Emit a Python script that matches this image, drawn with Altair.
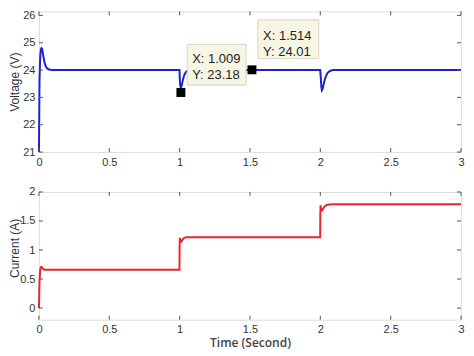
import altair as alt
import pandas as pd

# ---- data ----
v_time = [0.0, 0.004, 0.009, 0.014, 0.018, 0.022, 0.027, 0.033, 0.040, 0.048, 0.057, 0.068, 0.080, 0.095,
          0.999, 1.002, 1.005, 1.009, 1.014, 1.020, 1.027, 1.035, 1.045, 1.058, 1.075,
          1.999, 2.003, 2.007, 2.011, 2.016, 2.022, 2.030, 2.040, 2.052, 2.068, 2.090, 3.0]
v_volt = [21.0, 23.6, 24.5, 24.75, 24.8, 24.78, 24.65, 24.45, 24.28, 24.15, 24.07, 24.03, 24.01, 24.0,
          24.0, 23.6, 23.4, 23.36, 23.42, 23.56, 23.72, 23.84, 23.93, 23.98, 24.0,
          24.0, 23.75, 23.4, 23.26, 23.3, 23.45, 23.62, 23.78, 23.9, 23.97, 24.0, 24.0]

i_time = [0.0, 0.004, 0.009, 0.013, 0.017, 0.022, 0.028, 0.036, 0.046, 0.060,
          0.999, 1.0, 1.002, 1.005, 1.010, 1.016, 1.024, 1.034, 1.046, 1.060,
          1.999, 2.0, 2.002, 2.006, 2.012, 2.020, 2.030, 2.045, 2.065, 2.090, 3.0]
i_amp = [0.0, 0.45, 0.66, 0.70, 0.71, 0.70, 0.68, 0.665, 0.66, 0.66,
         0.66, 1.10, 1.21, 1.15, 1.14, 1.16, 1.19, 1.21, 1.22, 1.22,
         1.22, 1.62, 1.77, 1.69, 1.68, 1.71, 1.75, 1.775, 1.785, 1.79, 1.79]

tip_x = [1.009, 1.514]
tip_y = [23.18, 24.01]
tip_line1 = ["X: 1.009", "X: 1.514"]
tip_line2 = ["Y: 23.18", "Y: 24.01"]
box_x1 = [1.054, 1.556]
box_x2 = [1.472, 1.989]
box_ytop = [24.94, 25.84]
box_ybot = [23.45, 24.42]
txt_x = [1.089, 1.593]
txt_y1 = [24.42, 25.25]
txt_y2 = [23.82, 24.65]

x_ticks = [0, 0.5, 1, 1.5, 2, 2.5, 3]
v_ticks = [21, 22, 23, 24, 25, 26]
i_ticks = [0, 0.5, 1, 1.5, 2]

W = 423
H1 = 141
H2 = 128
FRAME = "#555555"
LABEL = "#333333"
TL = 4

xs = alt.Scale(domain=[0, 3], nice=False, zero=False)


def xenc(title):
    kw = dict(values=x_ticks, format="~g", grid=False, ticks=False, domain=False,
              labelFontSize=11, labelPadding=4, labelColor=LABEL, labelFont="Liberation Sans",
              labelFlush=False)
    if title:
        kw.update(title=title, titleFontSize=12, titleFont="Open Sans", titleFontWeight=600,
                  titleColor="#444444", titlePadding=3)
    else:
        kw.update(title=None)
    return alt.X("t:Q", scale=xs, axis=alt.Axis(**kw))


def yenc(field, dom, ticks, title, ty):
    return alt.Y(f"{field}:Q", scale=alt.Scale(domain=dom, nice=False, zero=False),
                 axis=alt.Axis(values=ticks, format="~g", grid=False, ticks=False, domain=False,
                               labelFontSize=11, labelPadding=4, labelColor=LABEL,
                               labelFont="Liberation Sans", labelFlush=False,
                               title=title, titleFontSize=12, titleFont="Liberation Sans",
                               titleFontWeight="normal", titleColor=LABEL, titleX=-17, titleY=ty))


def panel(df, field, dom, ticks, title, color, H, xtitle, ty):
    X = xenc(xtitle)
    Y = yenc(field, dom, ticks, title, ty)
    line = alt.Chart(df).mark_line(color=color, strokeWidth=2).encode(x=X, y=Y)
    xt = pd.DataFrame({"t": x_ticks})
    yt = pd.DataFrame({field: ticks})
    bt = alt.Chart(xt).mark_rule(color=FRAME).encode(x=X, y=alt.value(H), y2=alt.value(H - TL))
    tt = alt.Chart(xt).mark_rule(color=FRAME).encode(x=X, y=alt.value(0), y2=alt.value(TL))
    lt = alt.Chart(yt).mark_rule(color=FRAME).encode(y=Y, x=alt.value(0), x2=alt.value(TL))
    rt = alt.Chart(yt).mark_rule(color=FRAME).encode(y=Y, x=alt.value(W - TL), x2=alt.value(W))
    return [line, bt, tt, lt, rt], X, Y


vdf = pd.DataFrame({"t": v_time, "v": v_volt})
idf = pd.DataFrame({"t": i_time, "i": i_amp})

layers1, X1, Y1 = panel(vdf, "v", [21, 26.15], v_ticks, "Voltage (V)", "#1f1fd6", H1, None, H1 / 2)

boxdf = pd.DataFrame({"t": box_x1, "t2": box_x2, "v": box_ytop, "v2": box_ybot})
boxes = alt.Chart(boxdf).mark_rect(fill="#f7f6e4", stroke="#d8d6c0", strokeWidth=1).encode(
    x=X1, x2="t2:Q", y=Y1, y2="v2:Q")
tipdf = pd.DataFrame({"t": tip_x, "v": tip_y})
marks = alt.Chart(tipdf).mark_square(color="black", size=80, opacity=1).encode(x=X1, y=Y1)
t1 = pd.DataFrame({"t": txt_x, "v": txt_y1, "s": tip_line1})
t2 = pd.DataFrame({"t": txt_x, "v": txt_y2, "s": tip_line2})
txt1 = alt.Chart(t1).mark_text(align="left", baseline="middle", fontSize=13,
                               font="Liberation Sans", color="#222222").encode(x=X1, y=Y1, text="s:N")
txt2 = alt.Chart(t2).mark_text(align="left", baseline="middle", fontSize=13,
                               font="Liberation Sans", color="#222222").encode(x=X1, y=Y1, text="s:N")

top = alt.layer(*layers1, marks, boxes, txt1, txt2).properties(width=W, height=H1)

layers2, X2, Y2 = panel(idf, "i", [-0.2, 2.0], i_ticks, "Current (A)", "#e8262b", H2,
                        "Time (Second)", H2 / 2 - 8)
bottom = alt.layer(*layers2).properties(width=W, height=H2)

PAD = {"left": 0, "top": 0, "right": 0, "bottom": 0}
chart = alt.vconcat(top, bottom, spacing=17).properties(padding=PAD).configure_view(
    stroke=FRAME, strokeWidth=1.5).configure(background="white", padding=PAD)

chart.save("out.html", embed_options={"renderer": "svg", "actions": False})
